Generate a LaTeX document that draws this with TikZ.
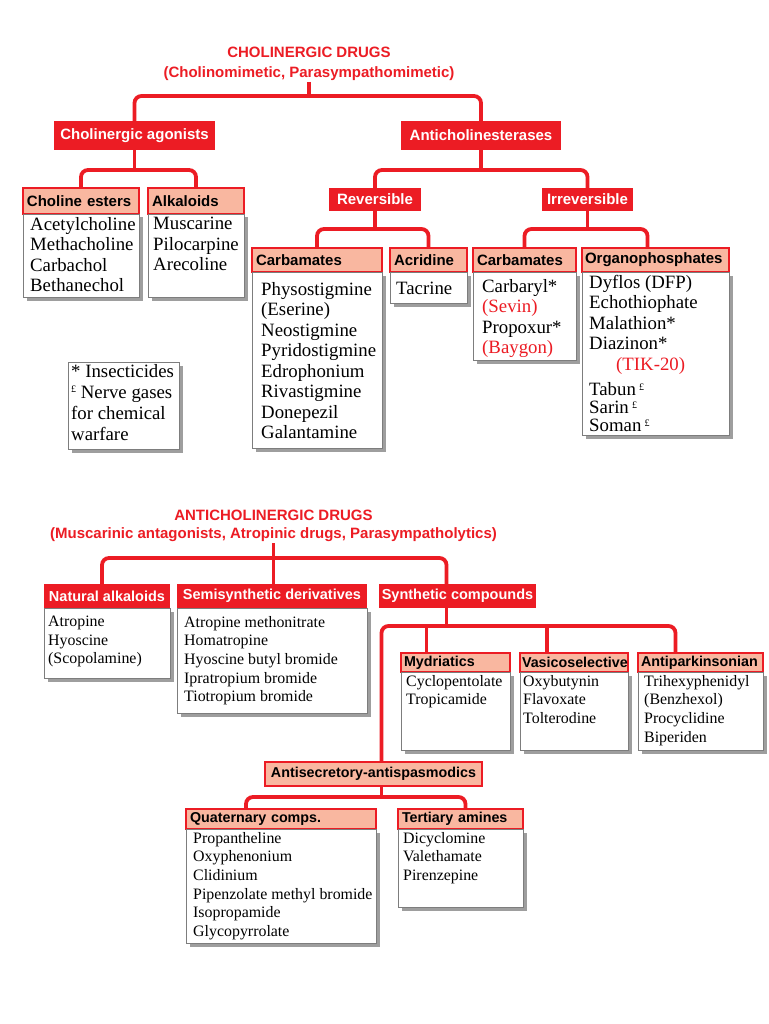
\documentclass[tikz,border=0pt]{standalone}
\usepackage{fontspec}
\setmainfont{Liberation Serif}
\setsansfont{Liberation Sans}
\usepackage{xcolor}
\usetikzlibrary{calc,shadows}

\definecolor{drugred}{RGB}{236,28,36}
\definecolor{salmon}{RGB}{249,183,160}
\definecolor{boxgray}{RGB}{125,125,125}

\newcommand{\hfont}{\sffamily\bfseries\fontsize{15}{16}\selectfont}
\newcommand{\hsmall}{\sffamily\bfseries\fontsize{14.3}{15}\selectfont}
\newcommand{\bigser}{\rmfamily\fontsize{18.8}{20.5}\selectfont}
\newcommand{\smlser}{\rmfamily\fontsize{15.9}{18.6}\selectfont}
\newcommand{\nerve}{\raisebox{5.5pt}{\fontsize{10}{10}\selectfont £}}

\tikzset{
  cat/.style={fill=drugred, text=white, font=\hfont, inner sep=0pt, outer sep=0pt, anchor=north west},
  subcat/.style={fill=salmon, draw=drugred, line width=1.2pt, font=\hfont, inner xsep=4pt, inner ysep=0pt,
    outer sep=0pt, align=left, anchor=north west},
  listbox/.style={draw=boxgray, fill=white, line width=0.7pt, inner sep=0pt, outer sep=0pt, anchor=north west,
    drop shadow={shadow xshift=3.5pt, shadow yshift=-3.5pt, fill=black!38, opacity=1}},
  items/.style={inner sep=0pt, align=left, anchor=north west},
  link/.style={draw=drugred, line width=3.8pt, rounded corners=7pt},
  heading/.style={text=drugred, align=center, inner sep=1pt}
}

\begin{document}
\begin{tikzpicture}[x=1pt, y=-1pt]
  \fill[white] (0,0) rectangle (768,1024);
  \useasboundingbox (0,0) rectangle (768,1024);

  % cholinergic drugs
  \node[heading, font=\sffamily\bfseries\fontsize{15}{20}\selectfont] (chol) at (309,64)
    {CHOLINERGIC DRUGS\\(Cholinomimetic, Parasympathomimetic)};
  \node[cat, minimum width=161pt, minimum height=29pt] (agon) at (54,121) {Cholinergic agonists};
  \node[cat, minimum width=160pt, minimum height=29pt] (ache) at (401,121) {Anticholinesterases};

  \node[subcat, text width=108pt, minimum height=26pt] (cest) at (23,188) {Choline esters};
  \node[listbox, minimum width=116pt, minimum height=83pt] (cestl) at (cest.south west) {};
  \node[items, font=\bigser] at (30,217) {Acetylcholine\\Methacholine\\Carbachol\\Bethanechol};

  \node[subcat, text width=88pt, minimum height=26pt] (alk) at (148,188) {Alkaloids};
  \node[listbox, minimum width=96pt, minimum height=83pt] (alkl) at (alk.south west) {};
  \node[items, font=\bigser] at (153,217) {Muscarine\\Pilocarpine\\Arecoline};

  \node[cat, minimum width=92pt, minimum height=23pt] (rev) at (329,188) {Reversible};
  \node[cat, minimum width=91pt, minimum height=23pt] (irr) at (542,188) {Irreversible};

  \node[subcat, text width=122pt, minimum height=24pt] (carba) at (252,248) {Carbamates};
  \node[listbox, minimum width=130pt, minimum height=176pt] (carbal) at (carba.south west) {};
  \node[items, font=\bigser] at (261,282) {Physostigmine\\(Eserine)\\Neostigmine\\Pyridostigmine\\Edrophonium\\Rivastigmine\\Donepezil\\Galantamine};

  \node[subcat, text width=69pt, minimum height=24pt] (acr) at (390,248) {Acridine};
  \node[listbox, minimum width=77pt, minimum height=31pt] (acrl) at (acr.south west) {};
  \node[items, font=\bigser] at (396,282) {Tacrine};

  \node[subcat, text width=95pt, minimum height=24pt] (carbb) at (473,248) {Carbamates};
  \node[listbox, minimum width=103pt, minimum height=88pt] (carbbl) at (carbb.south west) {};
  \node[items, font=\bigser] at (482,279) {Carbaryl*\\\textcolor{drugred}{(Sevin)}\\Propoxur*\\\textcolor{drugred}{(Baygon)}};

  \node[subcat, inner xsep=3pt, text width=141pt, minimum height=24pt] (orga) at (582,248) {Organophosphates};
  \node[listbox, minimum width=147pt, minimum height=163pt] (orgal) at (orga.south west) {};
  \node[items, font=\rmfamily\fontsize{18.8}{20.3}\selectfont] at (589,275)
    {Dyflos (DFP)\\Echothiophate\\Malathion*\\Diazinon*\\[0.7pt]\hspace*{27pt}\textcolor{drugred}{(TIK-20)}\\[5.2pt]Tabun\,\nerve\\[-2.3pt]Sarin\,\nerve\\[-2.3pt]Soman\,\nerve};

  \node[listbox, minimum width=111pt, minimum height=87pt] (note) at (68,362) {};
  \node[items, font=\rmfamily\fontsize{18.8}{21}\selectfont] at (71,364)
    {* Insecticides\\\nerve\ Nerve gases\\for chemical\\warfare};

  \coordinate (j1) at (309,96);
  \draw[link] (chol.south) -- (j1);
  \draw[link] (agon.north) |- (j1) -| (ache.north);
  \coordinate (j2) at ($(agon.south)+(0,20)$);
  \draw[link] (agon.south) -- (j2);
  \draw[link] (cest.north) |- (j2) -| (alk.north);
  \coordinate (j3) at ($(ache.south)+(0,20)$);
  \draw[link] (ache.south) -- (j3);
  \draw[link] (rev.north) |- (j3) -| (irr.north);
  \coordinate (j4) at ($(rev.south)+(0,18)$);
  \draw[link] (rev.south) -- (j4);
  \draw[link] (carba.north) |- (j4) -| (acr.north);
  \coordinate (j5) at ($(irr.south)+(0,18)$);
  \draw[link] (irr.south) -- (j5);
  \draw[link] (carbb.north) |- (j5) -| ($(orga.north)+(-8,0)$);

  % anticholinergic drugs
  \node[heading, font=\sffamily\bfseries\fontsize{15}{18.5}\selectfont] (anti) at (273.5,526)
    {ANTICHOLINERGIC DRUGS\\(Muscarinic antagonists, Atropinic drugs, Parasympatholytics)};
  \node[cat, font=\sffamily\bfseries\fontsize{14.5}{15}\selectfont, minimum width=126pt, minimum height=24pt] (nat) at (44,584) {Natural alkaloids};
  \node[listbox, minimum width=126pt, minimum height=70pt] (natl) at (nat.south west) {};
  \node[items, font=\smlser] at (48,616) {Atropine\\Hyoscine\\(Scopolamine)};

  \node[cat, font=\sffamily\bfseries\fontsize{14.5}{15}\selectfont, minimum width=190pt, minimum height=24pt] (semi) at (177,584) {Semisynthetic derivatives};
  \node[listbox, minimum width=190pt, minimum height=105pt] (semil) at (semi.south west) {};
  \node[items, font=\smlser] at (184,616) {Atropine methonitrate\\Homatropine\\Hyoscine butyl bromide\\Ipratropium bromide\\Tiotropium bromide};

  \node[cat, font=\sffamily\bfseries\fontsize{14.5}{15}\selectfont, minimum width=157pt, minimum height=24pt] (syn) at (379,584) {Synthetic compounds};

  \node[subcat, font=\hsmall, inner xsep=3pt, text width=103pt, minimum height=19pt] (mydr) at (401,653) {Mydriatics};
  \node[listbox, minimum width=109pt, minimum height=78pt] (mydrl) at (mydr.south west) {};
  \node[items, font=\smlser] at (406,675) {Cyclopentolate\\Tropicamide};

  \node[subcat, font=\hsmall, inner xsep=2pt, text width=104pt, minimum height=19pt] (vaso) at (520,653) {Vasicoselective};
  \node[listbox, minimum width=108pt, minimum height=78pt] (vasol) at (vaso.south west) {};
  \node[items, font=\smlser] at (523,675) {Oxybutynin\\Flavoxate\\Tolterodine};

  \node[subcat, font=\hsmall, inner xsep=3pt, text width=119pt, minimum height=19pt] (antip) at (638,653) {Antiparkinsonian};
  \node[listbox, minimum width=125pt, minimum height=78pt] (antipl) at (antip.south west) {};
  \node[items, font=\smlser] at (644,675) {Trihexyphenidyl\\(Benzhexol)\\Procyclidine\\Biperiden};

  \node[subcat, font=\hsmall, align=center, text width=209pt, minimum height=24pt] (asec) at (265,762) {Antisecretory-antispasmodics};

  \node[subcat, font=\hsmall, text width=182pt, minimum height=20pt] (quat) at (186,809) {Quaternary comps.};
  \node[listbox, minimum width=190pt, minimum height=114pt] (quatl) at (quat.south west) {};
  \node[items, font=\smlser] at (193,832) {Propantheline\\Oxyphenonium\\Clidinium\\Pipenzolate methyl bromide\\Isopropamide\\Glycopyrrolate};

  \node[subcat, font=\hsmall, text width=117pt, minimum height=20pt] (tert) at (398,809) {Tertiary amines};
  \node[listbox, minimum width=125pt, minimum height=78pt] (tertl) at (tert.south west) {};
  \node[items, font=\smlser] at (403,832) {Dicyclomine\\Valethamate\\Pirenzepine};

  \coordinate (j6) at (273.5,558);
  \draw[link] (anti.south) -- (anti.south |- semi.north);
  \draw[link] ($(nat.north)+(-5,0)$) |- (j6) -| ($(syn.north)+(-11,0)$);
  \coordinate (j7) at ($(syn.south)+(-11,18)$);
  \draw[link] ($(syn.south)+(-11,0)$) -- (j7);
  \coordinate (bq) at ($(asec.north)+(8,0)$);
  \coordinate (bp) at ($(antip.north)+(-25,0)$);
  \draw[link] (bq) |- (j7) -| (bp);
  \coordinate (bm) at ($(mydr.north)+(-29,0)$);
  \draw[link] (bm) -- (bm |- j7);
  \coordinate (bv) at ($(vaso.north)+(-27,0)$);
  \draw[link] (bv) -- (bv |- j7);
  \coordinate (j8) at ($(asec.south)+(8,11)$);
  \draw[link] ($(asec.south)+(8,0)$) -- (j8);
  \draw[link] ($(quat.north)+(-35,0)$) |- (j8) -| ($(tert.north)+(5,0)$);
\end{tikzpicture}
\end{document}
